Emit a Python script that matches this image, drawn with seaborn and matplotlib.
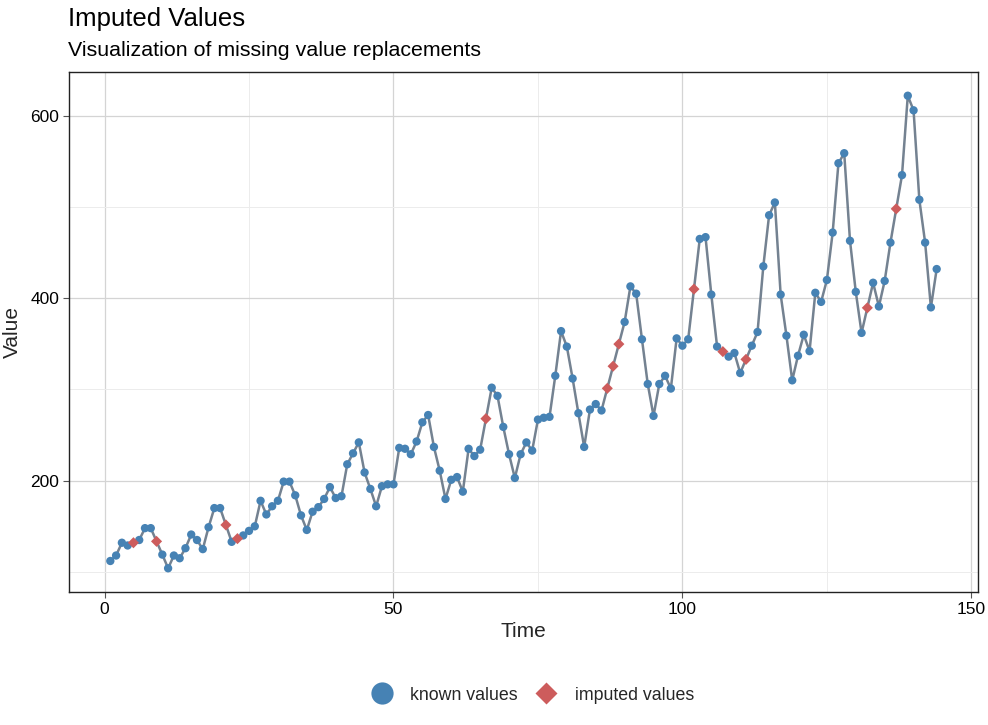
import numpy as np
import pandas as pd
import matplotlib
matplotlib.use("Agg")
import matplotlib.pyplot as plt
from matplotlib.lines import Line2D
from matplotlib.ticker import MultipleLocator
import seaborn as sns

# ---- data ----
time = list(range(1, 145))
series_values = [
    112, 118, 132, 129, 121, 135, 148, 148, 136, 119, 104, 118,
    115, 126, 141, 135, 125, 149, 170, 170, 158, 133, 114, 140,
    145, 150, 178, 163, 172, 178, 199, 199, 184, 162, 146, 166,
    171, 180, 193, 181, 183, 218, 230, 242, 209, 191, 172, 194,
    196, 196, 236, 235, 229, 243, 264, 272, 237, 211, 180, 201,
    204, 188, 235, 227, 234, 264, 302, 293, 259, 229, 203, 229,
    242, 233, 267, 269, 270, 315, 364, 347, 312, 274, 237, 278,
    284, 277, 317, 313, 318, 374, 413, 405, 355, 306, 271, 306,
    315, 301, 356, 348, 355, 422, 465, 467, 404, 347, 305, 336,
    340, 318, 362, 348, 363, 435, 491, 505, 404, 359, 310, 337,
    360, 342, 406, 396, 420, 472, 548, 559, 463, 407, 362, 405,
    417, 391, 419, 461, 472, 535, 622, 606, 508, 461, 390, 432,
]
imputed_index = [5, 9, 21, 23, 66, 87, 88, 89, 102, 107, 111, 132, 137]
imputed_values = [132, 133.5, 151.5, 136.5, 268, 301.25, 325.5, 349.75,
                  410, 341.5, 333, 389.5, 498]
x_ticks = [0, 50, 100, 150]
y_ticks = [200, 400, 600]
legend_labels = ["known values", "imputed values"]

# ---- build frames ----
full = pd.Series(series_values, index=time, dtype=float)
for i, v in zip(imputed_index, imputed_values):
    full[i] = v
line_df = pd.DataFrame({"Time": time, "Value": full.values})
known_mask = ~line_df["Time"].isin(imputed_index)
known_df = line_df[known_mask]
imp_df = pd.DataFrame({"Time": imputed_index, "Value": imputed_values})

C_KNOWN = "#4682B4"
C_IMP = "#CD5C5C"
C_LINE = "#6C7B8B"

sns.set_theme(style="white")
plt.rcParams["font.family"] = ["Liberation Sans", "DejaVu Sans"]

fig = plt.figure(figsize=(9.88, 7.25), dpi=100)
ax = fig.add_axes([69 / 988, 1 - 592 / 725, (978 - 69) / 988, (592 - 72) / 725])

sns.lineplot(data=line_df, x="Time", y="Value", ax=ax, color=C_LINE,
             linewidth=1.8, alpha=0.95, zorder=2)
sns.scatterplot(data=known_df, x="Time", y="Value", ax=ax, color=C_KNOWN,
                marker="o", s=36, edgecolor="none", linewidth=0, zorder=3)
sns.scatterplot(data=imp_df, x="Time", y="Value", ax=ax, color=C_IMP,
                marker="D", s=32, edgecolor="none", linewidth=0, zorder=4)

ax.set_xlim(-6.15, 151.15)
ax.set_ylim(78, 648)
ax.set_xticks(x_ticks)
ax.set_yticks(y_ticks)
ax.xaxis.set_minor_locator(MultipleLocator(25))
ax.yaxis.set_minor_locator(MultipleLocator(100))
ax.grid(True, which="major", color="#d4d4d4", linewidth=0.9, zorder=0)
ax.grid(True, which="minor", color="#ececec", linewidth=0.7, zorder=0)
ax.set_axisbelow(True)
for sp in ax.spines.values():
    sp.set_color("#222222")
    sp.set_linewidth(1.0)
ax.tick_params(axis="both", which="major", length=4, width=0.8, color="#555555",
               labelsize=12.5, labelcolor="black", pad=3, left=True, bottom=True)
ax.tick_params(axis="both", which="minor", length=0)
ax.set_xlabel("Time", fontsize=15, labelpad=4)
ax.set_ylabel("Value", fontsize=15, labelpad=6)

fig.text(68 / 988, 1 - 26 / 725, "Imputed Values", fontsize=18.5,
         ha="left", va="baseline", color="black")
fig.text(68 / 988, 1 - 56.5 / 725, "Visualization of missing value replacements",
         fontsize=15.4, ha="left", va="baseline", color="black")

handles = [
    Line2D([], [], linestyle="none", marker="o", markersize=16,
           markerfacecolor=C_KNOWN, markeredgecolor="none", label=legend_labels[0]),
    Line2D([], [], linestyle="none", marker="D", markersize=11.5,
           markerfacecolor=C_IMP, markeredgecolor="none", label=legend_labels[1]),
]
fig.legend(handles=handles, loc="center", bbox_to_anchor=(0.539, 1 - 695 / 725),
           ncol=2, frameon=False, fontsize=12.8, handletextpad=1.0,
           columnspacing=1.0, handlelength=1.2)

fig.savefig("out.png", dpi=100)
